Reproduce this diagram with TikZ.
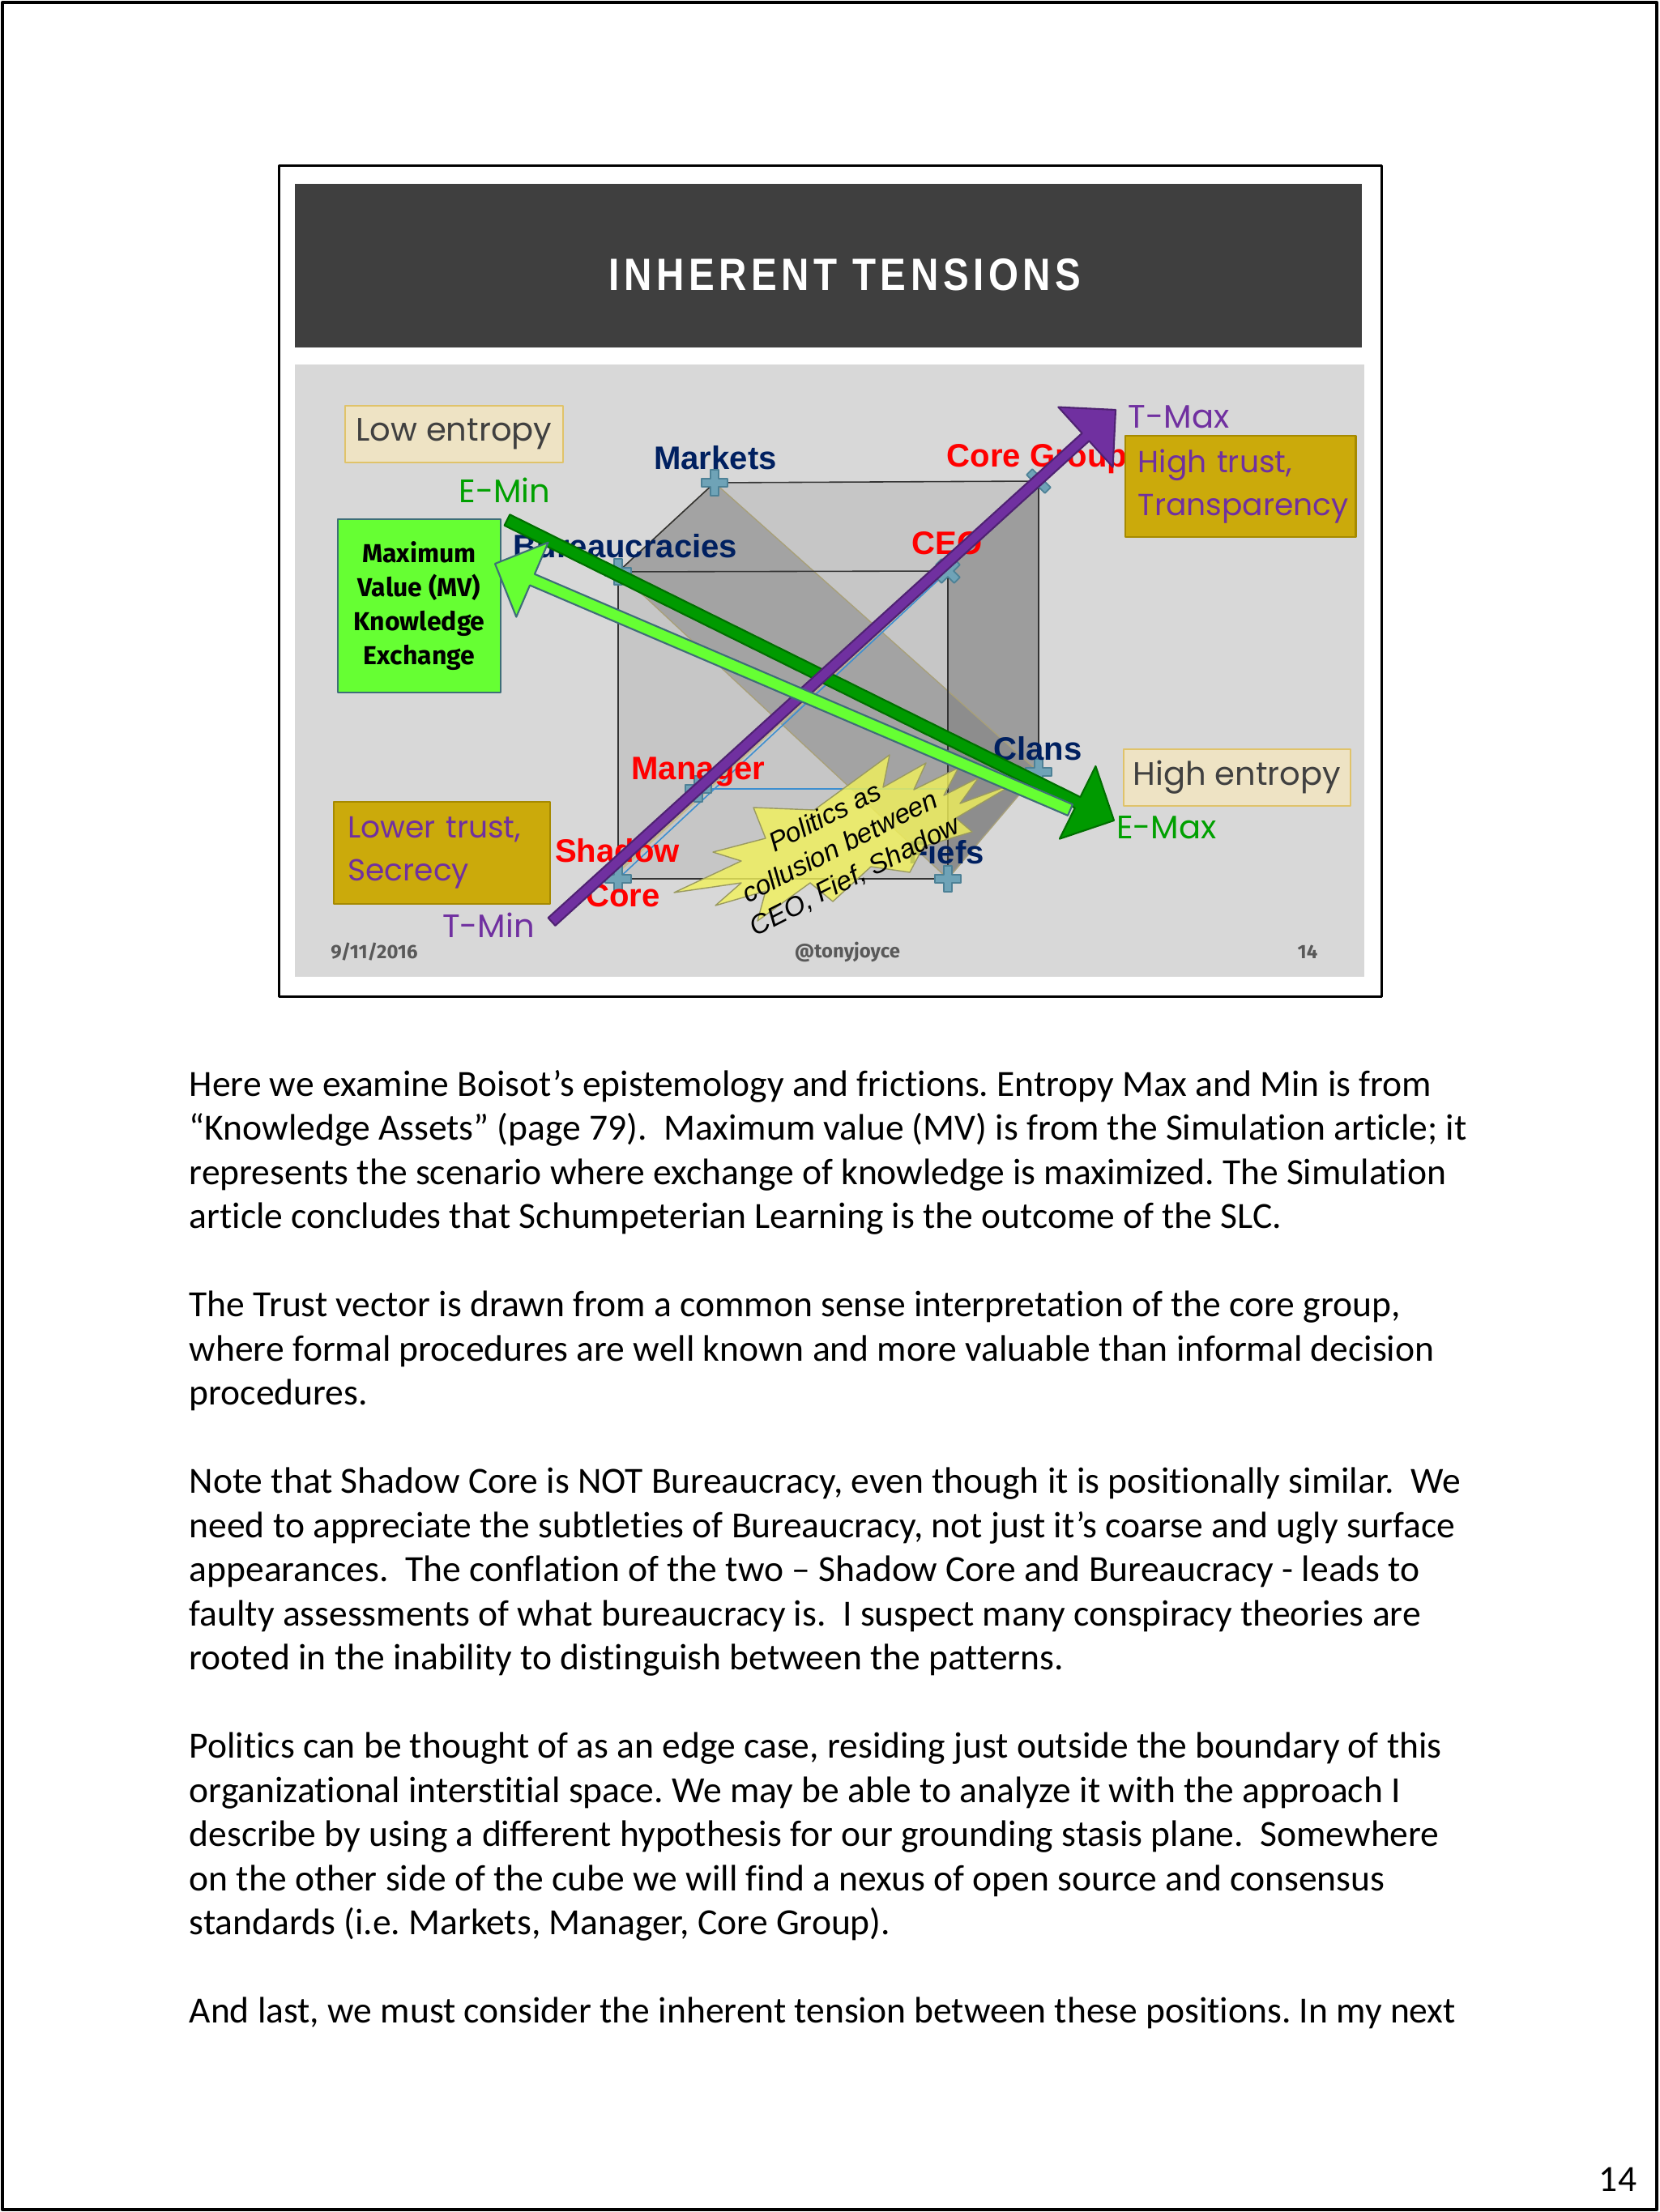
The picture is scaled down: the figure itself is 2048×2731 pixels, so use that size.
\documentclass[tikz,border=0pt]{standalone}
\usepackage{fontspec}
\setmainfont{Carlito}[Ligatures=NoCommon]
\newfontfamily\labfont{Liberation Sans}
\newfontfamily\twfont{Poppins}
\newfontfamily\mvfont{Fira Sans}
\newfontfamily\titlefont[FakeStretch=0.85,LetterSpace=10]{Liberation Sans}
\usetikzlibrary{calc}
\frenchspacing

\definecolor{slidebg}{HTML}{D8D8D8}
\definecolor{titlebar}{HTML}{3F3F3F}
\definecolor{navy}{HTML}{002060}
\definecolor{tpurple}{HTML}{7030A0}
\definecolor{tpurpleline}{HTML}{4F2272}
\definecolor{egreen}{HTML}{009A00}
\definecolor{egreenline}{HTML}{006F00}
\definecolor{etext}{HTML}{00A000}
\definecolor{mvgreen}{HTML}{66FF33}
\definecolor{mvline}{HTML}{3E6E78}
\definecolor{goldbox}{HTML}{CBAA0B}
\definecolor{goldline}{HTML}{A68A00}
\definecolor{beigebox}{HTML}{EEE3C4}
\definecolor{beigeline}{HTML}{E0C36A}
\definecolor{darktxt}{HTML}{404040}
\definecolor{pinfill}{HTML}{6FA3B7}
\definecolor{pinline}{HTML}{4D8196}
\definecolor{burst}{HTML}{F2F25A}
\definecolor{burstline}{HTML}{9A9A60}
\definecolor{footgray}{HTML}{595959}
\definecolor{cubeface}{HTML}{C6C6C6}
\definecolor{sideface}{HTML}{9D9D9D}
\definecolor{bandfill}{HTML}{7A7A7A}
\definecolor{bandline}{HTML}{A8A07A}
\definecolor{tanline}{HTML}{C4B98E}
\definecolor{diagblue}{HTML}{3D8FD0}

\begin{document}
\begin{tikzpicture}[
        x={(0.01cm,0cm)},
        y={(0cm,-0.01cm)},
        line join=round,
        vlabel/.style={inner sep=0pt, anchor=base,
            font=\labfont\bfseries\fontsize{11.4pt}{13pt}\selectfont},
        twlabel/.style={inner sep=0pt, anchor=base,
            font=\twfont\fontsize{11.4pt}{13pt}\selectfont},
        notes/.style={inner sep=0pt, anchor=base west,
            font=\fontsize{12.95pt}{15.5pt}\selectfont},
        tagbox/.style={draw=beigeline, fill=beigebox, line width=0.6pt,
            inner sep=0pt, text=darktxt,
            font=\twfont\fontsize{11.4pt}{13pt}\selectfont},
        trustbox/.style={draw=goldline, fill=goldbox, line width=0.8pt,
            inner sep=0pt, text=tpurple, align=left,
            font=\twfont\fontsize{10.7pt}{15pt}\selectfont},
        cubepin/.style={fill=pinfill, draw=pinline, line width=0.5pt},
        cubeedge/.style={draw=black!80, line width=0.45pt},
        foot/.style={inner sep=0pt, text=footgray,
            font=\mvfont\bfseries\fontsize{6.8pt}{8pt}\selectfont}
    ]

    \useasboundingbox (0,0) rectangle (2048,2731);
    \fill[white] (0,0) rectangle (2048,2731);
    \draw[line width=1.1pt] (3,3) rectangle (2045,2728);

    % slide
    \draw[line width=0.85pt] (344,205) rectangle (1705,1230);
    \fill[titlebar] (364,227) rectangle (1681,429);
    \fill[slidebg] (364,450) rectangle (1684,1206);
    \node[text=white, inner sep=0pt,
        font=\titlefont\bfseries\fontsize{15.9pt}{18pt}\selectfont]
        (title) at (1043,339) {INHERENT TENSIONS};

    % cube corners
    \coordinate (markets) at (882,596);
    \coordinate (coregrp) at (1282,594);
    \coordinate (clans) at (1282,953);
    \coordinate (manager) at (862,974);
    \coordinate (bureau) at (763,706);
    \coordinate (ceo) at (1170,705);
    \coordinate (fiefs) at (1170,1085);
    \coordinate (shadow) at (763,1085);

    \fill[cubeface] (markets) -- (coregrp) -- (clans) -- (fiefs)
        -- (shadow) -- (bureau) -- cycle;
    \fill[sideface] (ceo) -- (coregrp) -- (clans) -- (fiefs) -- cycle;
    \filldraw[fill=bandfill, fill opacity=0.45, draw=bandline, line width=0.4pt]
        (markets) -- (clans) -- (fiefs) -- (bureau) -- cycle;
    \draw[cubeedge] (markets) -- (coregrp) -- (clans);
    \draw[cubeedge] (markets) -- (bureau);
    \draw[cubeedge] (bureau) -- (ceo) -- (fiefs) -- (shadow) -- cycle;
    \draw[diagblue, line width=0.4pt] (manager) -- (1170,974);
    \draw[tanline, line width=1.4pt] (763,1075) -- (1172,699);
    \draw[diagblue, line width=0.45pt] (shadow) -- (ceo);

    \foreach \pt/\rot in {markets/0, bureau/0, coregrp/45, ceo/45,
        manager/0, shadow/0, clans/0, fiefs/0} {
        \begin{scope}[shift={(\pt)}, rotate=\rot]
            \filldraw[cubepin] (-5,-16) -- (5,-16) -- (5,-5) -- (16,-5)
                -- (16,5) -- (5,5) -- (5,16) -- (-5,16) -- (-5,5)
                -- (-16,5) -- (-16,-5) -- (-5,-5) -- cycle;
        \end{scope}
    }

    % corner labels
    \node[vlabel, text=navy] (marketslab) at (883,580) {Markets};
    \node[vlabel, text=navy] (bureaulab) at (772,688) {Bureaucracies};
    \node[vlabel, text=red] (coregrplab) at (1280,577) {Core Group};
    \node[vlabel, text=red] (ceolab) at (1169,684) {CEO};
    \node[vlabel, text=red] (managerlab) at (862,962) {Manager};
    \node[vlabel, text=red] (shadowlab) at (762,1064) {Shadow};
    \node[vlabel, text=red] (corelab) at (769,1119) {Core};
    \node[vlabel, text=navy] (clanslab) at (1281,938) {Clans};
    \node[vlabel, text=navy] (fiefslab) at (1168,1066) {Fiefs};

    % end labels
    \node[twlabel, text=etext] (eminlab) at (623,620) {E-Min};
    \node[twlabel, text=etext] (emaxlab) at (1440,1035) {E-Max};
    \node[twlabel, text=tpurple] (tmaxlab) at (1455,528) {T-Max};
    \node[twlabel, text=tpurple] (tminlab) at (603,1157) {T-Min};

    % boxes
    \node[tagbox, minimum width=2.69cm, minimum height=0.70cm]
        (lowent) at (560.5,536) {Low entropy};
    \node[tagbox, minimum width=2.80cm, minimum height=0.70cm]
        (highent) at (1527,960) {High entropy};
    \node[trustbox, minimum width=2.84cm, minimum height=1.25cm,
        text width=2.52cm] (hightrust) at (1531,600.5)
        {High trust,\\Transparency};
    \node[trustbox, minimum width=2.67cm, minimum height=1.26cm,
        text width=2.32cm] (lowtrust) at (545.5,1053)
        {Lower trust,\\Secrecy};
    \node[draw=mvline, fill=mvgreen, line width=0.8pt, inner sep=0pt,
        minimum width=2.01cm, minimum height=2.14cm, align=center,
        font=\mvfont\bfseries\fontsize{9.1pt}{11.9pt}\selectfont]
        (mvbox) at (517.5,748) {Maximum\\Value (MV)\\Knowledge\\Exchange};

    % politics burst
    \filldraw[fill=burst, fill opacity=0.8, draw=burstline, line width=0.4pt]
        (930,997) -- (1005,1000) -- (1098,932) -- (1090,972) -- (1143,942)
        -- (1128,975) -- (1183,948) -- (1165,982) -- (1208,960) -- (1185,992)
        -- (1253,967) -- (1180,1010) -- (1200,1027) -- (1140,1045)
        -- (1123,1077) -- (1075,1070) -- (1028,1113) -- (1000,1090)
        -- (935,1137) -- (945,1100) -- (883,1118) -- (915,1090)
        -- (832,1102) -- (915,1063) -- (880,1052) -- (945,1035) -- cycle;
    \node[rotate=27, align=center, inner sep=0pt,
        font=\labfont\itshape\fontsize{9.5pt}{11.6pt}\selectfont]
        (politics) at (1037,1046) {Politics as\\collusion between\\CEO, Fief, Shadow};

    % vectors
    \coordinate (emin) at (626,642);
    \coordinate (emax) at (1375,1013);
    \coordinate (tmin) at (681,1138);
    \coordinate (tmax) at (1377,506);
    \coordinate (mvtail) at (1321,1000);
    \coordinate (mvtip) at (611,696);

    \foreach \tl/\tp/\fc/\oc/\hw in {emin/emax/egreen/egreenline/0.075cm,
        tmin/tmax/tpurple/tpurpleline/0.065cm,
        mvtail/mvtip/mvgreen/mvline/0.075cm} {
        \coordinate (hb) at ($(\tp)!0.5cm!(\tl)$);
        \filldraw[fill=\fc, draw=\oc, line width=0.6pt]
            ($(\tl)!\hw!90:(\tp)$) -- ($(hb)!\hw!90:(\tp)$)
            -- ($(hb)!0.5cm!90:(\tp)$) -- (\tp)
            -- ($(hb)!0.5cm!-90:(\tp)$) -- ($(hb)!\hw!-90:(\tp)$)
            -- ($(\tl)!\hw!-90:(\tp)$) -- cycle;
    }

    % slide footer
    \node[foot] (date) at (462,1175) {9/11/2016};
    \node[foot] (handle) at (1046,1175) {@tonyjoyce};
    \node[foot] (slideno) at (1614,1175) {14};

    % notes
    \foreach \yy/\txt [count=\k] in {
        1353/{Here we examine Boisot’s epistemology and frictions. Entropy Max and Min is from},
        1407.5/{“Knowledge Assets” (page 79).\ \ Maximum value (MV) is from the Simulation article; it},
        1462/{represents the scenario where exchange of knowledge is maximized. The Simulation},
        1516.5/{article concludes that Schumpeterian Learning is the outcome of the SLC.},
        1625.5/{The Trust vector is drawn from a common sense interpretation of the core group,},
        1680/{where formal procedures are well known and more valuable than informal decision},
        1734.5/{procedures.},
        1843.5/{Note that Shadow Core is NOT Bureaucracy, even though it is positionally similar.\ \ We},
        1898/{need to appreciate the subtleties of Bureaucracy, not just it’s coarse and ugly surface},
        1952.5/{appearances.\ \ The conflation of the two – Shadow Core and Bureaucracy - leads to},
        2007/{faulty assessments of what bureaucracy is.\ \ I suspect many conspiracy theories are},
        2061.5/{rooted in the inability to distinguish between the patterns.},
        2170.5/{Politics can be thought of as an edge case, residing just outside the boundary of this},
        2225/{organizational interstitial space. We may be able to analyze it with the approach I},
        2279.5/{describe by using a different hypothesis for our grounding stasis plane.\ \ Somewhere},
        2334/{on the other side of the cube we will find a nexus of open source and consensus},
        2388.5/{standards (i.e. Markets, Manager, Core Group).},
        2497.5/{And last, we must consider the inherent tension between these positions. In my next}
    } {
        \node[notes] (note\k) at (233,\yy) {\txt};
    }

    \node[notes, anchor=base] (pageno) at (1997,2705) {14};

\end{tikzpicture}
\end{document}
